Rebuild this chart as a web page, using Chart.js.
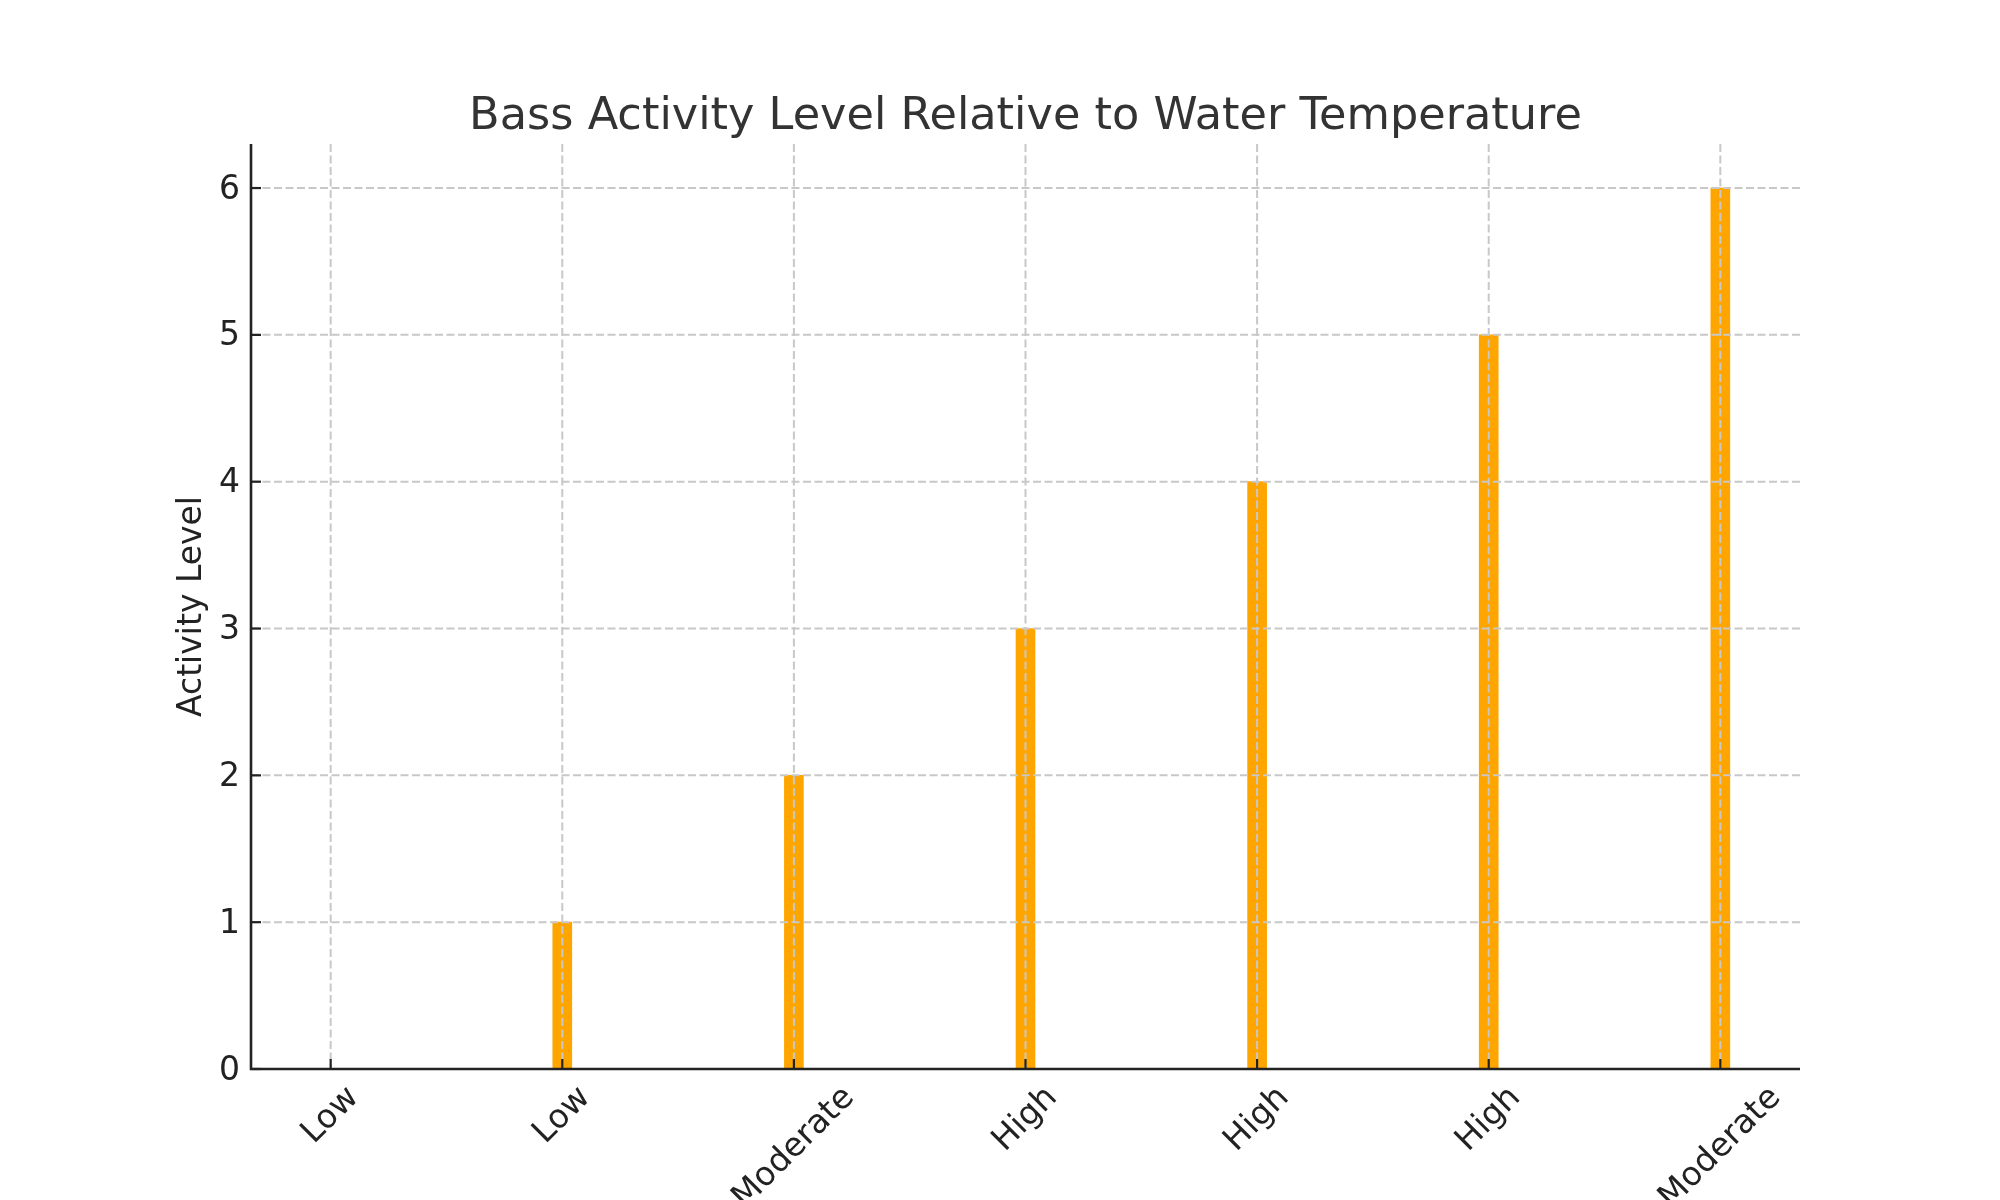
<!DOCTYPE html>
<html><head><meta charset="utf-8">
<script src="https://cdn.jsdelivr.net/npm/chart.js@4.4.0/dist/chart.umd.min.js"></script>
<style>html,body{margin:0;padding:0;background:#fff}#wrap{width:2000px;height:1200px}</style>
</head><body><div id="wrap"><canvas id="c" width="2000" height="1200"></canvas></div>
<script>
const categories = ['Low', 'Low', 'Moderate', 'High', 'High', 'High', 'Moderate'];
const activityLevels = [0, 1, 2, 3, 4, 5, 6];
const yTickValues = [0, 1, 2, 3, 4, 5, 6];
const titleText = 'Bass Activity Level Relative to Water Temperature';
const yAxisTitle = 'Activity Level';

const FONT = 'DejaVu Sans';

const overlay = {
  id: 'overlay',
  afterDatasetsDraw(chart) {
    const { ctx, chartArea: a, scales: { x, y } } = chart;
    ctx.save();
    // dashed grid drawn above bars
    ctx.strokeStyle = '#c8c8c8';
    ctx.lineWidth = 2;
    ctx.setLineDash([8, 3.5]);
    yTickValues.forEach(v => {
      const py = y.getPixelForValue(v);
      ctx.beginPath(); ctx.moveTo(a.left, py); ctx.lineTo(a.right, py); ctx.stroke();
    });
    categories.forEach((c, i) => {
      const px = x.getPixelForValue(i);
      ctx.beginPath(); ctx.moveTo(px, a.top); ctx.lineTo(px, a.bottom); ctx.stroke();
    });
    ctx.setLineDash([]);
    // inward tick marks
    ctx.strokeStyle = '#222';
    ctx.lineWidth = 2.2;
    yTickValues.forEach(v => {
      const py = y.getPixelForValue(v);
      ctx.beginPath(); ctx.moveTo(a.left, py); ctx.lineTo(a.left + 10, py); ctx.stroke();
    });
    categories.forEach((c, i) => {
      const px = x.getPixelForValue(i);
      ctx.beginPath(); ctx.moveTo(px, a.bottom); ctx.lineTo(px, a.bottom - 10); ctx.stroke();
    });
    // spines
    ctx.lineWidth = 2.6;
    ctx.beginPath();
    ctx.moveTo(a.left, a.top); ctx.lineTo(a.left, a.bottom); ctx.lineTo(a.right, a.bottom);
    ctx.stroke();
    // rotated, centred x tick labels
    ctx.font = '33px "' + FONT + '"';
    ctx.fillStyle = '#222';
    ctx.textAlign = 'center';
    ctx.textBaseline = 'middle';
    const s = Math.SQRT1_2;
    categories.forEach((c, i) => {
      const px = x.getPixelForValue(i);
      const w = ctx.measureText(c).width;
      const h = 33 * 1.164;
      const cy = a.bottom + 10 + (w + h) * s / 2;
      ctx.save();
      ctx.translate(px, cy);
      ctx.rotate(-Math.PI / 4);
      ctx.fillText(c, 0, 0);
      ctx.restore();
    });
    ctx.restore();
  }
};

new Chart(document.getElementById('c'), {
  type: 'bar',
  data: {
    datasets: [{
      data: activityLevels.map((v, i) => ({ x: i, y: v })),
      backgroundColor: '#FFA500',
      borderWidth: 0,
      barThickness: 19
    }]
  },
  options: {
    responsive: false,
    animation: false,
    devicePixelRatio: 1,
    layout: { padding: { left: 0, right: 200, top: 0, bottom: 0 } },
    plugins: {
      legend: { display: false },
      tooltip: { enabled: false },
      title: {
        display: true, text: titleText, fullSize: false, color: '#333',
        font: { family: FONT, size: 44.6, weight: 'normal', lineHeight: 1.2 },
        padding: { top: 90.2, bottom: 0.28 }
      }
    },
    scales: {
      x: {
        type: 'linear', min: -0.344, max: 6.344, offset: false,
        grid: { display: false, drawTicks: false }, border: { display: false },
        ticks: { display: false },
        afterBuildTicks(s) { s.ticks = categories.map((c, i) => ({ value: i })); },
        afterFit(s) { s.height = 131; }
      },
      y: {
        min: 0, max: 6.3,
        grid: { display: false, drawTicks: false }, border: { display: false },
        ticks: { padding: 11, labelOffset: 2, color: '#222', font: { family: FONT, size: 33 } },
        afterBuildTicks(s) { s.ticks = yTickValues.map(v => ({ value: v })); },
        afterFit(s) { s.width = 251; },
        title: {
          display: true, text: yAxisTitle, color: '#222',
          font: { family: FONT, size: 33, lineHeight: 1.2 },
          padding: { top: 173, bottom: 0 }
        }
      }
    }
  },
  plugins: [overlay]
});
</script>
</body></html>
